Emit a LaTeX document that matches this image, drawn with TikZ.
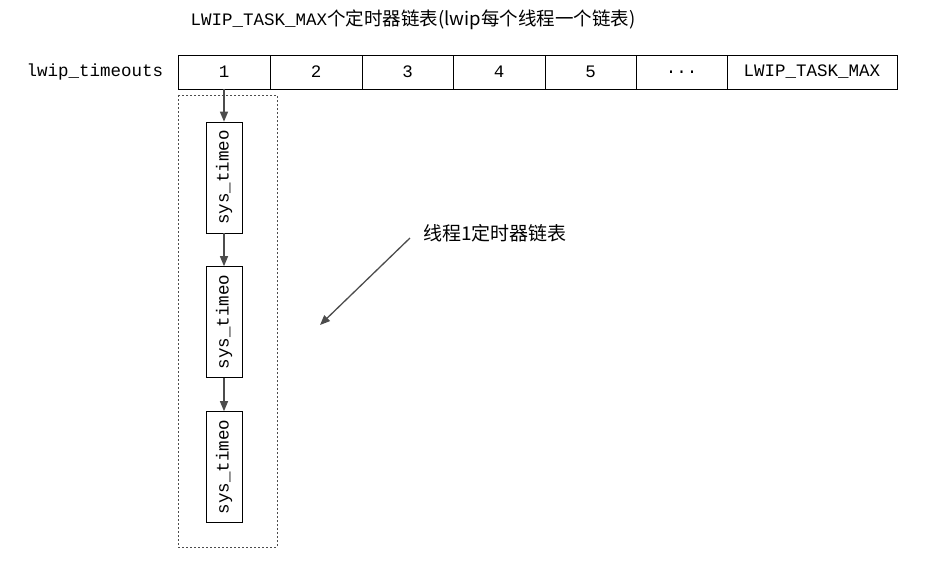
\documentclass[tikz,border=0pt]{standalone}
\usepackage{fontspec}
\setmainfont{Liberation Mono}
\newfontfamily\cjk{Noto Sans CJK SC}
\usetikzlibrary{arrows.meta}
\begin{document}
\begin{tikzpicture}[x=1pt,y=-1pt,
  cell/.style={draw,semithick,minimum height=34pt,inner sep=0pt,font=\fontsize{17.5}{19}\selectfont},
  sbox/.style={draw,semithick,minimum width=36pt,minimum height=111pt,inner sep=0pt,font=\fontsize{17.5}{19}\selectfont},
  arr/.style={draw=black!70,line width=1.3pt,-{Triangle[length=10pt,width=8pt]}}]
\useasboundingbox (0,0) rectangle (942,563);
\node[font=\fontsize{17.5}{19}\selectfont] (title) at (413,20) {LWIP\_TASK\_MAX{\cjk\fontsize{18.5}{20}\selectfont 个定时器链表(lwip每个线程一个链表)}};
\node[font=\fontsize{17.5}{19}\selectfont] (lbl) at (95,72) {lwip\_timeouts};
\node[cell,minimum width=92pt] (c1) at (224,72) {1};
\node[cell,minimum width=92pt] (c2) at (316,72) {2};
\node[cell,minimum width=91pt] (c3) at (407.5,72) {3};
\node[cell,minimum width=92pt] (c4) at (499,72) {4};
\node[cell,minimum width=91pt] (c5) at (590.5,72) {5};
\node[cell,minimum width=91pt] (c6) at (681.5,72) {...};
\node[cell,minimum width=170pt] (c7) at (812,72) {LWIP\_TASK\_MAX};
\draw[dash pattern=on 2pt off 2pt,semithick,black!70] (178,95) rectangle (277,547);
\node[sbox] (s1) at (224,177.5) {\rotatebox{90}{sys\_timeo}};
\node[sbox] (s2) at (224,322) {\rotatebox{90}{sys\_timeo}};
\node[sbox] (s3) at (224,467) {\rotatebox{90}{sys\_timeo}};
\draw[arr] (c1) -- (s1);
\draw[arr] (s1) -- (s2);
\draw[arr] (s2) -- (s3);
\node[font=\cjk\fontsize{19}{21}\selectfont] (t1) at (495,233) {线程1定时器链表};
\coordinate (e) at (320,325);
\draw[arr] (410,238) -- (e);
\end{tikzpicture}
\end{document}
